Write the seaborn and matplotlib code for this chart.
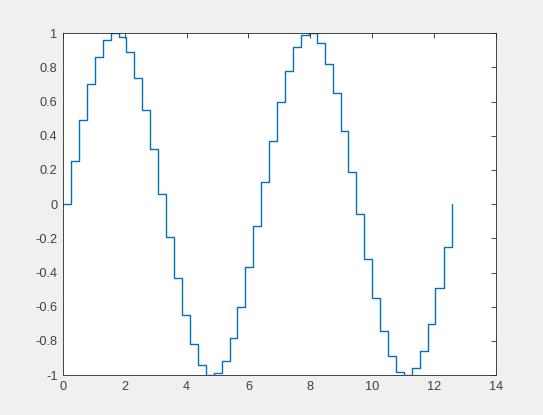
import matplotlib
matplotlib.use('Agg')
import matplotlib.pyplot as plt
import matplotlib.ticker as mticker
import numpy as np
import pandas as pd
import seaborn as sns

# stair positions and heights
x_vals = [0.00, 0.26, 0.51, 0.77, 1.03, 1.28, 1.54, 1.80, 2.05, 2.31,
          2.56, 2.82, 3.08, 3.33, 3.59, 3.85, 4.10, 4.36, 4.62, 4.87,
          5.13, 5.39, 5.64, 5.90, 6.15, 6.41, 6.67, 6.92, 7.18, 7.44,
          7.69, 7.95, 8.21, 8.46, 8.72, 8.98, 9.23, 9.49, 9.75, 10.00,
          10.26, 10.51, 10.77, 11.03, 11.28, 11.54, 11.80, 12.05, 12.31, 12.57]
y_vals = [0.00, 0.25, 0.49, 0.70, 0.86, 0.96, 1.00, 0.98, 0.89, 0.74,
          0.55, 0.32, 0.06, -0.19, -0.43, -0.65, -0.82, -0.94, -1.00, -0.99,
          -0.92, -0.78, -0.60, -0.37, -0.13, 0.13, 0.37, 0.60, 0.78, 0.92,
          0.99, 1.00, 0.94, 0.82, 0.65, 0.43, 0.19, -0.06, -0.32, -0.55,
          -0.74, -0.89, -0.98, -1.00, -0.96, -0.86, -0.70, -0.49, -0.25, 0.00]
x_ticks = [0, 2, 4, 6, 8, 10, 12, 14]
y_ticks = [-1, -0.8, -0.6, -0.4, -0.2, 0, 0.2, 0.4, 0.6, 0.8, 1]

sns.set_style('white')
plt.rcParams['font.family'] = ['Liberation Sans', 'DejaVu Sans']
plt.rcParams['axes.unicode_minus'] = False

df = pd.DataFrame({'x': x_vals, 'y': y_vals})

fig = plt.figure(figsize=(5.43, 4.15), dpi=100, facecolor='#f0f0f0')
ax = fig.add_axes([0.116, 0.096, 0.797, 0.824])
sns.lineplot(data=df, x='x', y='y', ax=ax, estimator=None, sort=False,
             drawstyle='steps-post', color='#0072BD', lw=1)

ax.set_xlim(0, 14)
ax.set_ylim(-1, 1)
ax.set_xticks(x_ticks)
ax.set_yticks(y_ticks)
ax.xaxis.set_major_formatter(mticker.FormatStrFormatter('%g'))
ax.yaxis.set_major_formatter(mticker.FormatStrFormatter('%g'))
ax.set_xlabel('')
ax.set_ylabel('')
ax.tick_params(direction='in', length=3.8, width=0.6, top=True, right=True,
               colors='#262626', labelcolor='#404040', labelsize=9.2, pad=4)
for s in ax.spines.values():
    s.set_visible(True)
    s.set_color('#262626')
    s.set_linewidth(0.6)

fig.savefig('out.png', dpi=100, facecolor=fig.get_facecolor())
